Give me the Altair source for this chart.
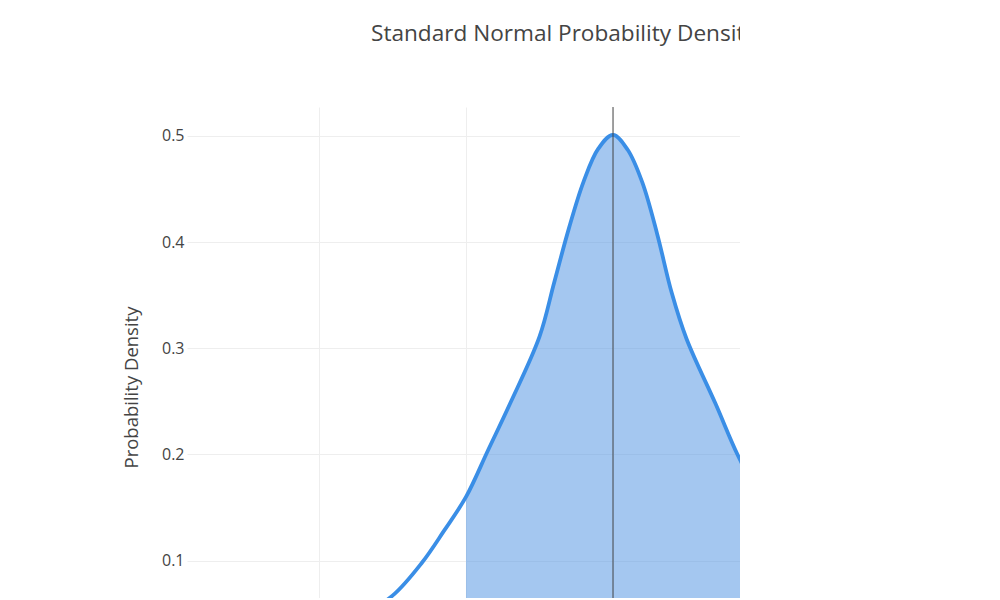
import altair as alt
import pandas as pd

# curve values
x_vals = [-3.0, -2.5, -2.0, -1.75, -1.5, -1.3, -1.15, -1.0, -0.85, -0.7, -0.5,
          -0.4, -0.3, -0.2, -0.1, 0.0, 0.1, 0.2, 0.3, 0.4, 0.5, 0.7, 0.85,
          1.0, 1.15, 1.3, 1.5, 1.75, 2.0, 2.5, 3.0]
y_vals = [0.004, 0.012, 0.028, 0.045, 0.067, 0.098, 0.128, 0.160, 0.204, 0.248, 0.311,
          0.362, 0.413, 0.457, 0.488, 0.501, 0.487, 0.456, 0.408, 0.352, 0.309, 0.247, 0.199,
          0.160, 0.128, 0.098, 0.067, 0.045, 0.028, 0.012, 0.004]
shade_from = -1.0
shade_to = 1.0
mean_line = [0.0]
y_ticks = [0.0, 0.1, 0.2, 0.3, 0.4, 0.5]
x_ticks = [-3, -2, -1, 0, 1, 2, 3]

df = pd.DataFrame({"x": x_vals, "y": y_vals})
mean_df = pd.DataFrame({"x": mean_line})

FONT = "Open Sans"
xscale = alt.Scale(domain=[-2.898, 0.864], nice=False, zero=False)
yscale = alt.Scale(domain=[0.0648, 0.5273], nice=False, zero=False)

xaxis = alt.Axis(values=x_ticks, labels=False, ticks=False, domain=False, grid=True,
                 gridColor="#eeeeee", gridWidth=1, title=None)
yaxis = alt.Axis(values=y_ticks, format=".1f", ticks=False, tickSize=0, domain=False, grid=True,
                 gridColor="#eeeeee", gridWidth=1, labelFont=FONT, labelFontSize=16,
                 labelColor="#444444", labelPadding=3, title="Probability Density",
                 titleFont=FONT, titleFontSize=18.5, titleFontWeight="normal",
                 titleColor="#444444", titlePadding=20, titleY=280)

X = alt.X("x:Q", scale=xscale, axis=xaxis)
Y = alt.Y("y:Q", scale=yscale, axis=yaxis)

area = alt.Chart(df).transform_filter(
    f"datum.x >= {shade_from} && datum.x <= {shade_to}"
).mark_area(interpolate="catmull-rom", clip=True, color="#4a90e2", opacity=0.5).encode(
    x=X, y=Y, y2=alt.datum(0)
)

line = alt.Chart(df).mark_line(interpolate="catmull-rom", clip=True, color="#3a8ee6",
                               strokeWidth=3.8).encode(x=X, y=Y)

rule = alt.Chart(mean_df).mark_rule(color="#444444", opacity=0.75, strokeWidth=1.3).encode(x=X)

chart = alt.layer(area, line, rule).properties(
    width=553,
    height=491,
    title=alt.TitleParams("Standard Normal Probability Density", anchor="start", frame="group",
                          dx=184, offset=43, font=FONT, fontSize=22.6, fontWeight="normal",
                          color="#444444", baseline="alphabetic"),
    autosize=alt.AutoSizeParams(type="none"),
    padding={"left": 179, "top": 99, "right": 0, "bottom": 0},
).configure_view(stroke=None)

chart.save("out.html", embed_options={"renderer": "svg", "actions": False})
